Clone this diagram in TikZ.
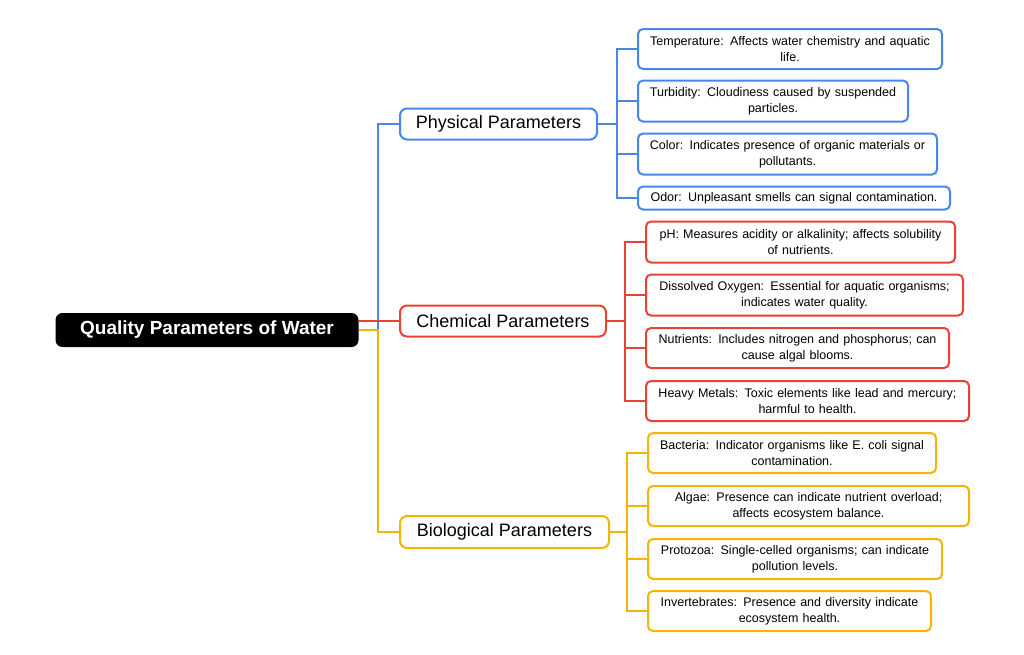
\documentclass[tikz,border=0pt]{standalone}
\usepackage{fontspec}
\setmainfont{Liberation Sans}
\definecolor{cb}{HTML}{4A86E8}
\definecolor{cr}{HTML}{E94235}
\definecolor{cy}{HTML}{F4B400}
\begin{document}
\begin{tikzpicture}[x=1pt,y=-1pt,
  leaf/.style={draw=#1,line width=2pt,rounded corners=5pt,fill=white,align=center,font=\fontsize{12.5}{16}\selectfont,inner sep=0pt,anchor=west},
  mid/.style={draw=#1,line width=2pt,rounded corners=7pt,fill=white,font=\fontsize{18}{20}\selectfont,inner sep=0pt,anchor=west},
  con/.style={draw=#1,line width=2pt}]
\useasboundingbox (0,0) rectangle (1024,654);
\node[fill=black,text=white,rounded corners=7pt,font=\bfseries\fontsize{19}{22}\selectfont,minimum width=303pt,minimum height=34pt,inner sep=0pt] (root) at (207,330) {Quality Parameters of Water};
\node[mid=cb,minimum width=197pt,minimum height=31pt] (phy) at (399,124) {Physical Parameters};
\node[mid=cr,minimum width=206pt,minimum height=31pt] (che) at (399,321) {Chemical Parameters};
\node[mid=cy,minimum width=209pt,minimum height=32pt] (bio) at (399,532) {Biological Parameters};
% leaves physical
\node[leaf=cb,minimum width=304pt,minimum height=40pt,text width=300pt] (p1) at (637,49) {Temperature: Affects water chemistry and aquatic\\life.};
\node[leaf=cb,minimum width=270pt,minimum height=41pt,text width=266pt] (p2) at (637,101) {Turbidity: Cloudiness caused by suspended\\particles.};
\node[leaf=cb,minimum width=299pt,minimum height=41pt,text width=295pt] (p3) at (637,154) {Color: Indicates presence of organic materials or\\pollutants.};
\node[leaf=cb,minimum width=312pt,minimum height=23pt,text width=308pt] (p4) at (637,198) {Odor: Unpleasant smells can signal contamination.};
% chemical
\node[leaf=cr,minimum width=309pt,minimum height=41pt,text width=305pt] (c1) at (645,242) {pH: Measures acidity or alkalinity; affects solubility\\of nutrients.};
\node[leaf=cr,minimum width=317pt,minimum height=41pt,text width=313pt] (c2) at (645,295) {Dissolved Oxygen: Essential for aquatic organisms;\\indicates water quality.};
\node[leaf=cr,minimum width=303pt,minimum height=40pt,text width=299pt] (c3) at (645,348) {Nutrients: Includes nitrogen and phosphorus; can\\cause algal blooms.};
\node[leaf=cr,minimum width=323pt,minimum height=40pt,text width=319pt] (c4) at (645,401) {Heavy Metals: Toxic elements like lead and mercury;\\harmful to health.};
% biological
\node[leaf=cy,minimum width=288pt,minimum height=40pt,text width=284pt] (b1) at (647,453) {Bacteria: Indicator organisms like E. coli signal\\contamination.};
\node[leaf=cy,minimum width=321pt,minimum height=40pt,text width=317pt] (b2) at (647,506) {Algae: Presence can indicate nutrient overload;\\affects ecosystem balance.};
\node[leaf=cy,minimum width=294pt,minimum height=40pt,text width=290pt] (b3) at (647,559) {Protozoa: Single-celled organisms; can indicate\\pollution levels.};
\node[leaf=cy,minimum width=283pt,minimum height=40pt,text width=279pt] (b4) at (647,611) {Invertebrates: Presence and diversity indicate\\ecosystem health.};
% connectors
\draw[con=cb] (root.east) -| (378,124) -- (phy.west);
\draw[con=cy] (root.east) -| (378,532) -- (bio.west);
\draw[con=cr] (root.east|-che.west) -- (che.west);
\foreach \n in {p1,p2,p3,p4}{\draw[con=cb] (phy.east) -| (617,0|-\n.west) -- (\n.west);}
\foreach \n in {c1,c2,c3,c4}{\draw[con=cr] (che.east) -| (625,0|-\n.west) -- (\n.west);}
\foreach \n in {b1,b2,b3,b4}{\draw[con=cy] (bio.east) -| (627,0|-\n.west) -- (\n.west);}
\end{tikzpicture}
\end{document}
